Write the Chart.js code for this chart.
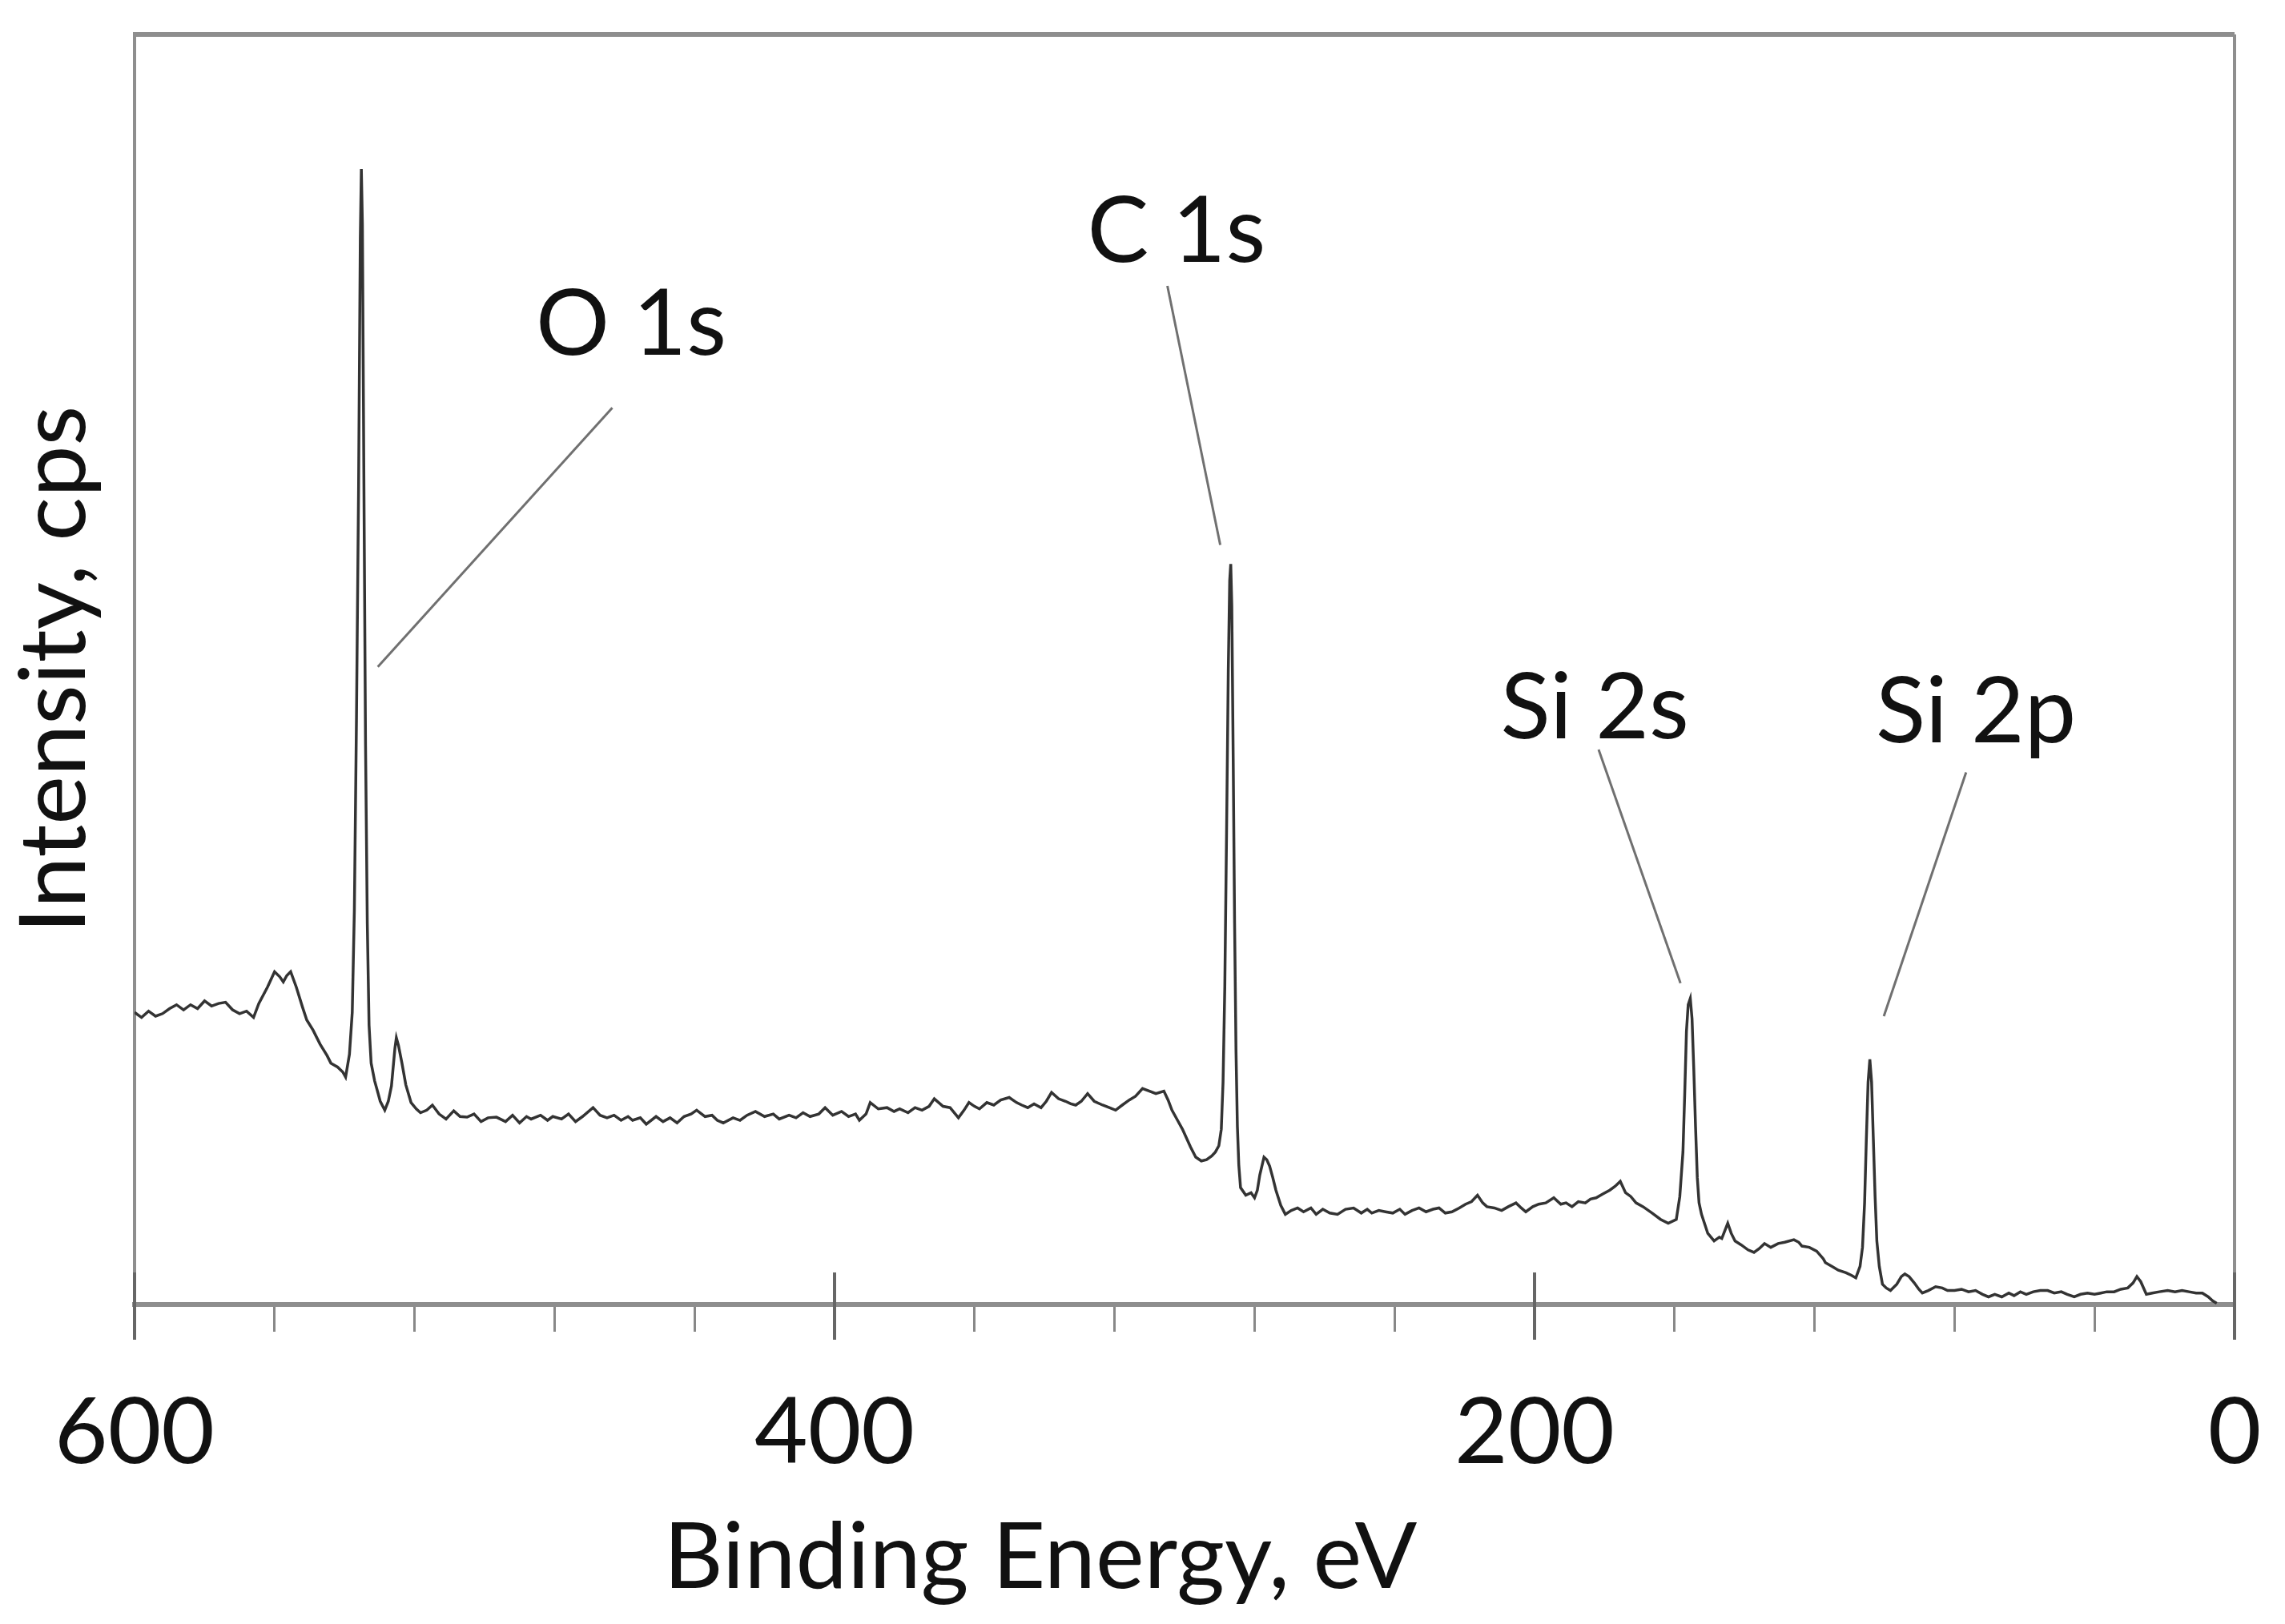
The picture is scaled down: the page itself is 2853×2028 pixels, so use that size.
<!DOCTYPE html>
<html>
<head>
<meta charset="utf-8">
<title>XPS survey</title>
<script src="https://cdn.jsdelivr.net/npm/chart.js@4.4.0/dist/chart.umd.min.js"></script>
<style>
  html, body { margin: 0; padding: 0; background: #fff; }
</style>
</head>
<body>
<canvas id="myChart" width="2853" height="2028"></canvas>
<script>
// binding energy (eV) and intensity (arb. units, axis = 0..100)
const energy = [
  600, 598, 596, 594, 592, 590, 588, 586, 584, 582, 580, 578, 576, 574, 572, 570, 568, 566, 564.5, 562,
  560, 558.5, 557.5, 556.5, 555.4, 553.8, 552, 550.8, 549, 547, 545, 543.9, 542, 540.5, 539.7, 538.6, 537.8, 537.2, 536.6, 536.0,
  535.5, 535.2, 534.9, 534.5, 534.0, 533.5, 533.0, 532.4, 531.4, 530.6, 529.8, 528.5, 527.5, 526.6, 525.6, 525.2, 524.6, 523.6, 522.5, 521,
  519.5, 518.3, 516.5, 514.9, 513, 511, 508.8, 507, 505, 503, 501, 499, 496.6, 494, 492, 490, 488, 486.7, 484, 482,
  480.5, 478, 476, 474, 472, 469, 467, 465, 463, 461, 459, 457.7, 455.5, 453.8, 451, 449, 447, 445, 443, 441,
  439.4, 437, 435, 433.5, 431.8, 429, 427, 425, 422.6, 420, 417.5, 415.8, 413, 411, 409, 407, 404.5, 402.7, 400.5, 398,
  396, 394, 392.9, 391, 389.8, 387.5, 385, 383, 381.4, 379, 377, 375, 373, 371.5, 369, 367, 364.6, 363, 361.6, 360,
  358.6, 356.5, 354.5, 352.5, 350.1, 348, 346.5, 344.8, 343, 341, 339.5, 338, 336, 334, 332.5, 331.1, 329.5, 327.7, 325.8, 323.4,
  321.5, 319.7, 317.8, 315.8, 314, 312, 310, 308.2, 305.9, 304.7, 303.6, 302, 300.6, 298.3, 296.8, 295.2, 293.7, 292.2, 291.2, 290.2,
  289.5, 289.0, 288.5, 288.0, 287.5, 287.1, 286.8, 286.5, 286.1, 285.7, 285.3, 284.9, 284.5, 284.0, 282.5, 281, 280, 279.2, 278.5, 277.3,
  276.5, 275.7, 274.8, 273.9, 272.5, 271.2, 269.5, 267.7, 266, 263.9, 262.4, 260.5, 258.5, 256.3, 254, 251.7, 249.5, 247.8, 246.5, 244.5,
  242.6, 240.5, 238.5, 237, 235, 233, 231, 229, 227.3, 225.5, 223.6, 221.5, 219.7, 218, 216.3, 214.8, 213.6, 211.5, 209.4, 207.5,
  205.3, 203.8, 202.5, 200.5, 198.8, 196.8, 194.5, 192.5, 191, 189.3, 187.5, 185.5, 184, 182.4, 180.5, 178.5, 177, 175.5, 174, 172.5,
  171, 169, 166.4, 164, 161.8, 159.5, 158.5, 157.6, 157.1, 156.6, 156.1, 155.5, 155.0, 154.5, 154.0, 153.5, 153.0, 152.3, 150.5, 148.7,
  147.2, 146.5, 145.5, 144.8, 143.8, 142.7, 141, 139, 137.3, 135.8, 134.3, 132.5, 130.4, 128.5, 125.9, 124.5, 123.6, 121.5, 119.4, 117.5,
  116.9, 115, 113.2, 111, 109.5, 108.2, 107.0, 106.3, 105.7, 105.2, 104.7, 104.2, 103.7, 103.2, 102.7, 102.2, 101.5, 100.6, 99.5, 98.3,
  96.5, 95.2, 94.2, 93, 91.5, 90.2, 89.2, 87.5, 85.4, 83.5, 82, 80, 78, 76, 74, 72, 70.3, 68.5, 66.5, 64.5,
  63, 61.2, 59.5, 57.5, 55.5, 53.4, 51.5, 49.5, 47.8, 45.8, 44, 42, 40, 38.2, 36.5, 34.4, 32.5, 30.5, 29, 27.9,
  26.8, 25.2, 23.5, 21.5, 19.1, 17, 15, 13, 11, 9.2, 7.5, 6.3, 5.1
];
const intensity = [
  23.0, 22.6, 23.1, 22.7, 22.9, 23.3, 23.6, 23.2, 23.6, 23.3, 23.9, 23.5, 23.7, 23.8, 23.2, 22.9, 23.1, 22.6, 23.7, 25.0,
  26.2, 25.8, 25.4, 25.9, 26.2, 25.0, 23.4, 22.4, 21.6, 20.5, 19.6, 19.0, 18.7, 18.3, 17.9, 19.7, 23.0, 31.0, 46.0, 64.0,
  84.0, 89.4, 85.0, 66.0, 44.0, 30.0, 22.0, 19.0, 17.6, 16.8, 16.0, 15.3, 16.0, 17.2, 20.2, 21.0, 20.4, 19.0, 17.3, 15.9,
  15.4, 15.1, 15.3, 15.7, 15.0, 14.6, 15.25, 14.8, 14.75, 15.0, 14.4, 14.7, 14.75, 14.4, 14.9, 14.3, 14.8, 14.6, 14.9, 14.5,
  14.8, 14.6, 15.0, 14.4, 14.8, 15.5, 14.9, 14.7, 14.9, 14.5, 14.8, 14.5, 14.7, 14.2, 14.8, 14.4, 14.7, 14.3, 14.8, 15.0,
  15.3, 14.8, 14.9, 14.5, 14.3, 14.7, 14.5, 14.9, 15.2, 14.8, 15.0, 14.6, 14.9, 14.7, 15.1, 14.8, 15.0, 15.5, 14.9, 15.2,
  14.8, 15.0, 14.5, 15.0, 15.9, 15.4, 15.5, 15.2, 15.4, 15.1, 15.5, 15.3, 15.6, 16.2, 15.6, 15.5, 14.7, 15.3, 15.9, 15.6,
  15.4, 15.9, 15.7, 16.1, 16.3, 15.9, 15.7, 15.5, 15.8, 15.5, 16.0, 16.7, 16.2, 16.0, 15.8, 15.7, 16.0, 16.6, 16.0, 15.7,
  15.5, 15.3, 15.7, 16.1, 16.4, 17.0, 16.8, 16.6, 16.8, 16.1, 15.3, 14.5, 13.8, 12.4, 11.6, 11.3, 11.4, 11.7, 12.0, 12.5,
  13.8, 17.5, 25.0, 37.0, 50.0, 57.0, 58.3, 55.0, 43.0, 30.0, 20.0, 14.0, 11.0, 9.2, 8.6, 8.8, 8.4, 9.0, 10.2, 11.6,
  11.4, 10.9, 10.0, 9.0, 7.8, 7.1, 7.4, 7.6, 7.3, 7.6, 7.1, 7.5, 7.2, 7.1, 7.5, 7.6, 7.2, 7.5, 7.2, 7.4,
  7.3, 7.2, 7.5, 7.1, 7.4, 7.6, 7.3, 7.5, 7.6, 7.2, 7.3, 7.6, 7.9, 8.1, 8.6, 8.0, 7.7, 7.6, 7.4, 7.7,
  8.0, 7.6, 7.3, 7.7, 7.9, 8.0, 8.4, 7.9, 8.0, 7.7, 8.1, 8.0, 8.3, 8.4, 8.7, 9.0, 9.3, 9.7, 8.8, 8.5,
  8.0, 7.7, 7.2, 6.7, 6.4, 6.7, 8.5, 12.0, 16.5, 21.5, 23.6, 24.1, 22.5, 18.5, 14.0, 10.0, 8.0, 7.1, 5.6, 5.0,
  5.3, 5.2, 5.9, 6.4, 5.6, 5.0, 4.7, 4.3, 4.1, 4.4, 4.8, 4.5, 4.8, 4.9, 5.1, 4.9, 4.6, 4.5, 4.2, 3.6,
  3.3, 3.0, 2.7, 2.5, 2.3, 2.1, 3.0, 4.5, 8.0, 13.0, 17.5, 19.3, 17.5, 13.0, 8.5, 5.0, 3.0, 1.6, 1.3, 1.1,
  1.6, 2.2, 2.4, 2.2, 1.7, 1.2, 0.9, 1.1, 1.4, 1.3, 1.1, 1.1, 1.2, 1.0, 1.1, 0.8, 0.6, 0.8, 0.6, 0.9,
  0.7, 1.0, 0.8, 1.0, 1.1, 1.1, 0.9, 1.0, 0.8, 0.6, 0.8, 0.9, 0.8, 0.9, 1.0, 1.0, 1.2, 1.3, 1.7, 2.2,
  1.8, 0.8, 0.9, 1.0, 1.1, 1.0, 1.1, 1.0, 0.9, 0.9, 0.6, 0.3, 0.1
];
const xTickValues = [600, 400, 200, 0];

// peak labels and their leader lines, in data units (eV, intensity)
const peakNames = ['O 1s', 'C 1s', 'Si 2s', 'Si 2p'];
const labelE = [458.1, 302.3, 182.8, 73.9];
const labelI = [77.4, 84.7, 47.2, 46.9];
const leaderFromE = [463.5, 304.9, 181.7, 76.7];
const leaderFromI = [70.6, 80.2, 43.7, 41.9];
const leaderToE = [530.5, 289.8, 158.3, 100.2];
const leaderToI = [50.2, 59.8, 25.3, 22.7];

const FONT = 'Lato';
const FONT_SIZE = 115;

// frame, crossing major ticks, peak labels and x title
const decorations = {
  id: 'decorations',
  afterDraw(chart) {
    const ctx = chart.ctx;
    const area = chart.chartArea;
    const xs = chart.scales.x;
    const ys = chart.scales.y;
    ctx.save();

    // top + right frame
    ctx.strokeStyle = '#8e8e8e';
    ctx.lineWidth = 6;
    ctx.beginPath();
    ctx.moveTo(area.left - 2, area.top);
    ctx.lineTo(area.right, area.top);
    ctx.stroke();
    ctx.lineWidth = 4;
    ctx.beginPath();
    ctx.moveTo(area.right, area.top);
    ctx.lineTo(area.right, area.bottom);
    ctx.stroke();

    // major ticks cross the axis
    ctx.strokeStyle = '#666';
    ctx.lineWidth = 4;
    xTickValues.forEach(v => {
      const px = xs.getPixelForValue(v);
      ctx.beginPath();
      ctx.moveTo(px, area.bottom - 40);
      ctx.lineTo(px, area.bottom + 44);
      ctx.stroke();
    });

    // leader lines
    ctx.strokeStyle = '#707070';
    ctx.lineWidth = 3;
    for (let i = 0; i < peakNames.length; i++) {
      ctx.beginPath();
      ctx.moveTo(xs.getPixelForValue(leaderFromE[i]), ys.getPixelForValue(leaderFromI[i]));
      ctx.lineTo(xs.getPixelForValue(leaderToE[i]), ys.getPixelForValue(leaderToI[i]));
      ctx.stroke();
    }

    // peak labels, centred on cap height
    ctx.font = FONT_SIZE + 'px ' + FONT;
    ctx.fillStyle = '#111';
    ctx.textAlign = 'center';
    ctx.textBaseline = 'alphabetic';
    const capH = ctx.measureText('H').actualBoundingBoxAscent;
    for (let i = 0; i < peakNames.length; i++) {
      ctx.fillText(peakNames[i], xs.getPixelForValue(labelE[i]), ys.getPixelForValue(labelI[i]) + capH / 2);
    }

    // x axis title (sits left of the plot centre in the original)
    ctx.fillText('Binding Energy, eV', 1299, 1941 + capH / 2);
    ctx.restore();
  }
};

const points = energy.map((e, i) => ({ x: e, y: intensity[i] }));

const config = {
  type: 'line',
  data: {
    datasets: [{
      label: 'survey',
      data: points,
      borderColor: '#333',
      borderWidth: 3.5,
      pointRadius: 0,
      tension: 0,
      fill: false
    }]
  },
  options: {
    responsive: false,
    devicePixelRatio: 1,
    animation: false,
    layout: { padding: { left: 0, right: 63, top: 43, bottom: 0 } },
    plugins: {
      legend: { display: false },
      tooltip: { enabled: false }
    },
    scales: {
      x: {
        type: 'linear',
        reverse: true,
        min: 0,
        max: 600,
        border: { display: true, color: '#8e8e8e', width: 6 },
        grid: {
          display: true,
          drawOnChartArea: false,
          drawTicks: true,
          tickLength: 34,
          tickColor: '#888',
          tickWidth: 3
        },
        ticks: {
          stepSize: 40,
          autoSkip: false,
          maxRotation: 0,
          padding: 58,
          color: '#111',
          font: { family: FONT, size: FONT_SIZE },
          callback: v => (v % 200 === 0 ? String(v) : '')
        },
        afterFit: scale => {
          scale.height = 399;
          // edge labels must not push the plot area inwards
          scale.paddingLeft = 0;
          scale.paddingRight = 0;
        }
      },
      y: {
        type: 'linear',
        min: 0,
        max: 100,
        border: { display: true, color: '#8e8e8e', width: 4 },
        grid: { display: false },
        ticks: { display: false },
        title: {
          display: true,
          text: 'Intensity, cps',
          color: '#111',
          font: { family: FONT, size: FONT_SIZE },
          padding: { top: 0, bottom: 0 }
        },
        afterFit: scale => { scale.width = 168; }
      }
    }
  },
  plugins: [decorations]
};

const myChart = new Chart(document.getElementById('myChart'), config);
</script>
</body>
</html>
